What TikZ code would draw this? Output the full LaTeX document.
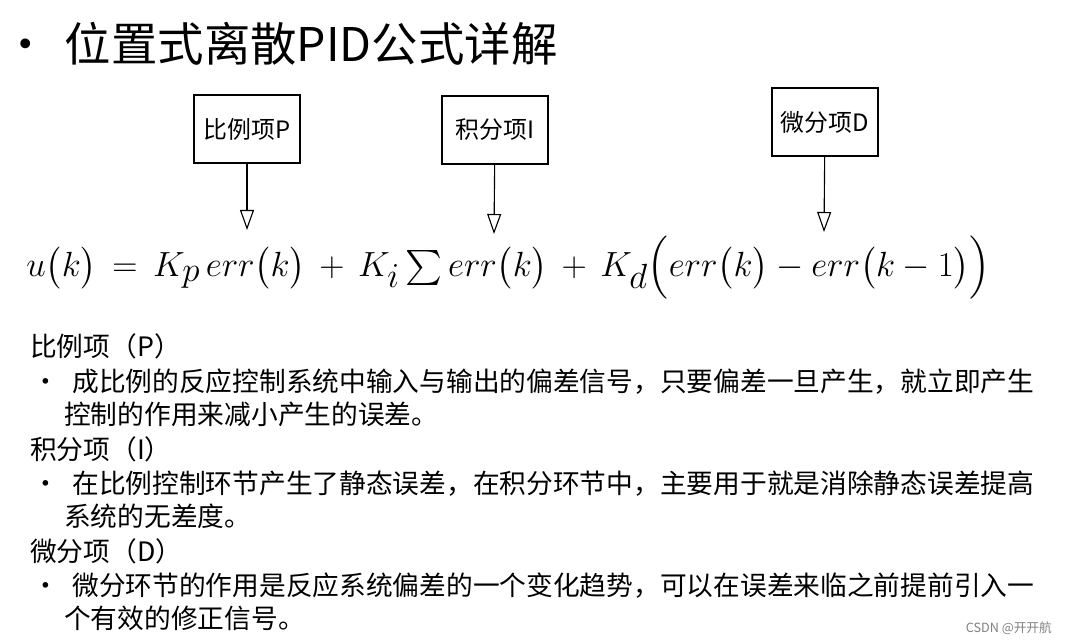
\documentclass[tikz,border=0pt]{standalone}
\usepackage{fontspec}
\usepackage{amsmath}
\newfontfamily\cjk{Noto Sans CJK SC}
\usetikzlibrary{positioning, arrows.meta, calc}
\begin{document}
\begin{tikzpicture}[
    x=0.025cm, y=-0.025cm,
    % Styles
    term/.style={% boxes naming each term
        rectangle,
        draw,
        thick,
        minimum width=2.65cm,
        minimum height=1.7cm,
        font=\cjk\fontsize{17}{20}\selectfont,
        },
    ArrowT/.style={% open triangle pointing at the formula
        -{Triangle[open, length=5mm, width=3.5mm]},
        thick,
        },
    body/.style={% description lines
        anchor=base west,
        font=\cjk\fontsize{19}{22}\selectfont,
        inner sep=0pt,
        },
    ]
\useasboundingbox (0,0) rectangle (1068,643);
% Title
\node[anchor=base west, inner sep=0pt, font=\cjk\fontsize{33}{36}\selectfont] (title) at (2,62) {•\hspace{0.35em}位置式离散PID公式详解};
% Term boxes
\node[term] (boxP) at (247,129) {比例项P};
\node[term] (boxI) at (495,130) {积分项I};
\node[term] (boxD) at (825,122) {微分项D};
\coordinate (tipP) at (247,230);
\coordinate (tipI) at (494,234);
\coordinate (tipD) at (824,232);
\draw[ArrowT] (boxP) -- (tipP);
\draw[ArrowT] (boxI) -- (tipI);
\draw[ArrowT] (boxD) -- (tipD);
% Formula
\node[anchor=west, inner sep=0pt, font=\fontsize{37}{42}\selectfont] (formula) at (26,268)
    {$u\big(k\big) \,=\, K_p\, err\big(k\big) \,+\, K_i \sum err\big(k\big) \,+\, K_d\Big(err\big(k\big) - err\big(k-1\big)\Big)$};
% Descriptions
\node[body] (hP) at (30,357) {比例项（P）};
\node[body] (p1) at (32,391) {•\hspace{0.5em}成比例的反应控制系统中输入与输出的偏差信号，只要偏差一旦产生，就立即产生};
\node[body] (p2) at (64,424) {控制的作用来减小产生的误差。};
\node[body] (hI) at (30,459) {积分项（I）};
\node[body] (i1) at (32,493) {•\hspace{0.5em}在比例控制环节产生了静态误差，在积分环节中，主要用于就是消除静态误差提高};
\node[body] (i2) at (64,526) {系统的无差度。};
\node[body] (hD) at (30,561) {微分项（D）};
\node[body] (d1) at (32,595) {•\hspace{0.5em}微分环节的作用是反应系统偏差的一个变化趋势，可以在误差来临之前提前引入一};
\node[body] (d2) at (64,628) {个有效的修正信号。};
% Watermark
\node[anchor=base east, inner sep=0pt, text=gray, font=\cjk\fontsize{9}{10}\selectfont] (mark) at (1052,632) {CSDN @开开航};
\end{tikzpicture}
\end{document}
